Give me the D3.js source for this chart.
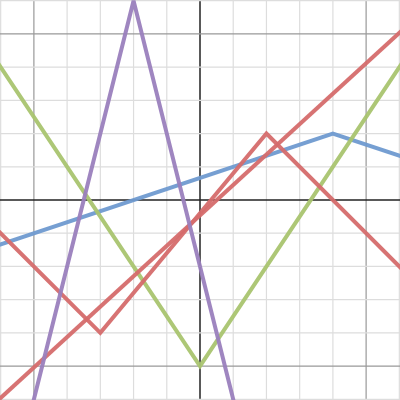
<!DOCTYPE html>
<html><head><meta charset="utf-8">
<script src="https://cdn.jsdelivr.net/npm/d3@7"></script>
<style>body{margin:0;background:#fff}</style>
</head><body>
<div id="chart"></div>
<script>
// Chart params
const width = 400;
const height = 400;
const xDomain = [-6.02, 6.02];
const yDomain = [-6.02, 6.02];

// Series: vertices of each polyline (x, y)
const blueX = [-6.1, 4, 6.1];
const blueY = [-1.37, 2, 1.3];
const purpleX = [-5.1, -2, 1.1];
const purpleY = [-6.4, 6, -6.4];
const greenX = [-6.1, 0, 6.1];
const greenY = [4.15, -5, 4.15];
const redLineX = [-6.1, 6.1];
const redLineY = [-6.05, 5.12];
const redVX = [-6.1, -3, 2, 6.1];
const redVY = [-0.9, -4, 2, -2.1];

const series = [
    {xs: blueX, ys: blueY, color: '#6f9ad0'},
    {xs: greenX, ys: greenY, color: '#a9c46f'},
    {xs: redLineX, ys: redLineY, color: '#d56b6b'},
    {xs: redVX, ys: redVY, color: '#d56b6b'},
    {xs: purpleX, ys: purpleY, color: '#9a80bd'}
];

const x = d3.scaleLinear().domain(xDomain).range([0, width]);
const y = d3.scaleLinear().domain(yDomain).range([height, 0]);

const svg = d3.select('#chart')
    .append('svg')
    .attr('width', width)
    .attr('height', height);

// Grid lines
const ticks = d3.range(-6, 7);
const g = svg.append('g');
g.selectAll('.vx')
    .data(ticks)
    .enter()
    .append('line')
    .attr('x1', d => x(d)).attr('x2', d => x(d))
    .attr('y1', 0).attr('y2', height)
    .attr('stroke', d => d === 0 ? '#222' : (d % 5 === 0 ? '#999' : '#ddd'))
    .attr('stroke-width', d => d === 0 ? 1.5 : 1.2);
g.selectAll('.hy')
    .data(ticks)
    .enter()
    .append('line')
    .attr('y1', d => y(d)).attr('y2', d => y(d))
    .attr('x1', 0).attr('x2', width)
    .attr('stroke', d => d === 0 ? '#222' : (d % 5 === 0 ? '#999' : '#ddd'))
    .attr('stroke-width', d => d === 0 ? 1.5 : 1.2);

// Lines
const line = d3.line().x(d => x(d[0])).y(d => y(d[1]));
svg.selectAll('.series')
    .data(series)
    .enter()
    .append('path')
    .attr('d', s => line(s.xs.map((v, i) => [v, s.ys[i]])))
    .attr('fill', 'none')
    .attr('stroke', s => s.color)
    .attr('stroke-width', 4)
    .attr('stroke-opacity', 0.95);
</script>
</body></html>
